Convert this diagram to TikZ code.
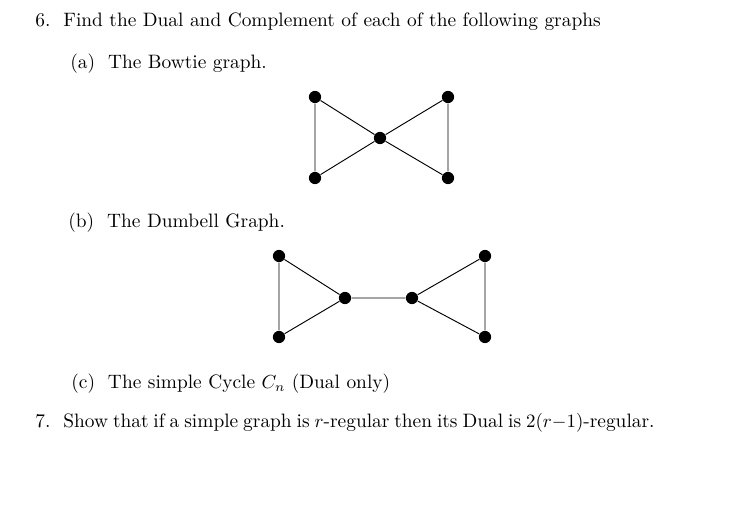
\documentclass[tikz,border=0pt]{standalone}
\begin{document}
\begin{tikzpicture}[x=0.53pt,y=-0.53pt,
  dot/.style={circle,fill=black,inner sep=0pt,minimum size=6.5pt},
  txt/.style={anchor=west,inner sep=0pt,font=\fontsize{10.28}{12}\selectfont},
  edge/.style={draw,line width=0.5pt}]
\useasboundingbox (0,0) rectangle (740,513);
\node[txt] (t6) at (35,22) {6.\ \ Find the Dual and Complement of each of the following graphs};
\node[txt] (ta) at (70,64) {(a)\ \ The Bowtie graph.};
\node[txt] (tb) at (68,223) {(b)\ \ The Dumbell Graph.};
\node[txt] (tc) at (71,384) {(c)\ \ The simple Cycle $C_n$ (Dual only)};
\node[txt] (t7) at (35,423) {7.\ \ \spaceskip=2.6pt plus 1pt Show that if a simple graph is $r$-regular then its Dual is $2(r{-}1)$-regular.};
% bowtie
\node[dot] (a1) at (315,97) {};
\node[dot] (a2) at (448,97) {};
\node[dot] (a3) at (380,138) {};
\node[dot] (a4) at (315,178) {};
\node[dot] (a5) at (448,178) {};
\draw[edge] (a1)--(a4) (a1)--(a3) (a4)--(a3) (a3)--(a2) (a3)--(a5) (a2)--(a5);
% dumbbell
\node[dot] (b1) at (279,256) {};
\node[dot] (b2) at (279,337) {};
\node[dot] (b3) at (345,298) {};
\node[dot] (b4) at (412,298) {};
\node[dot] (b5) at (485,256) {};
\node[dot] (b6) at (485,337) {};
\draw[edge] (b1)--(b2) (b1)--(b3) (b2)--(b3) (b3)--(b4) (b4)--(b5) (b4)--(b6) (b5)--(b6);
\end{tikzpicture}
\end{document}
